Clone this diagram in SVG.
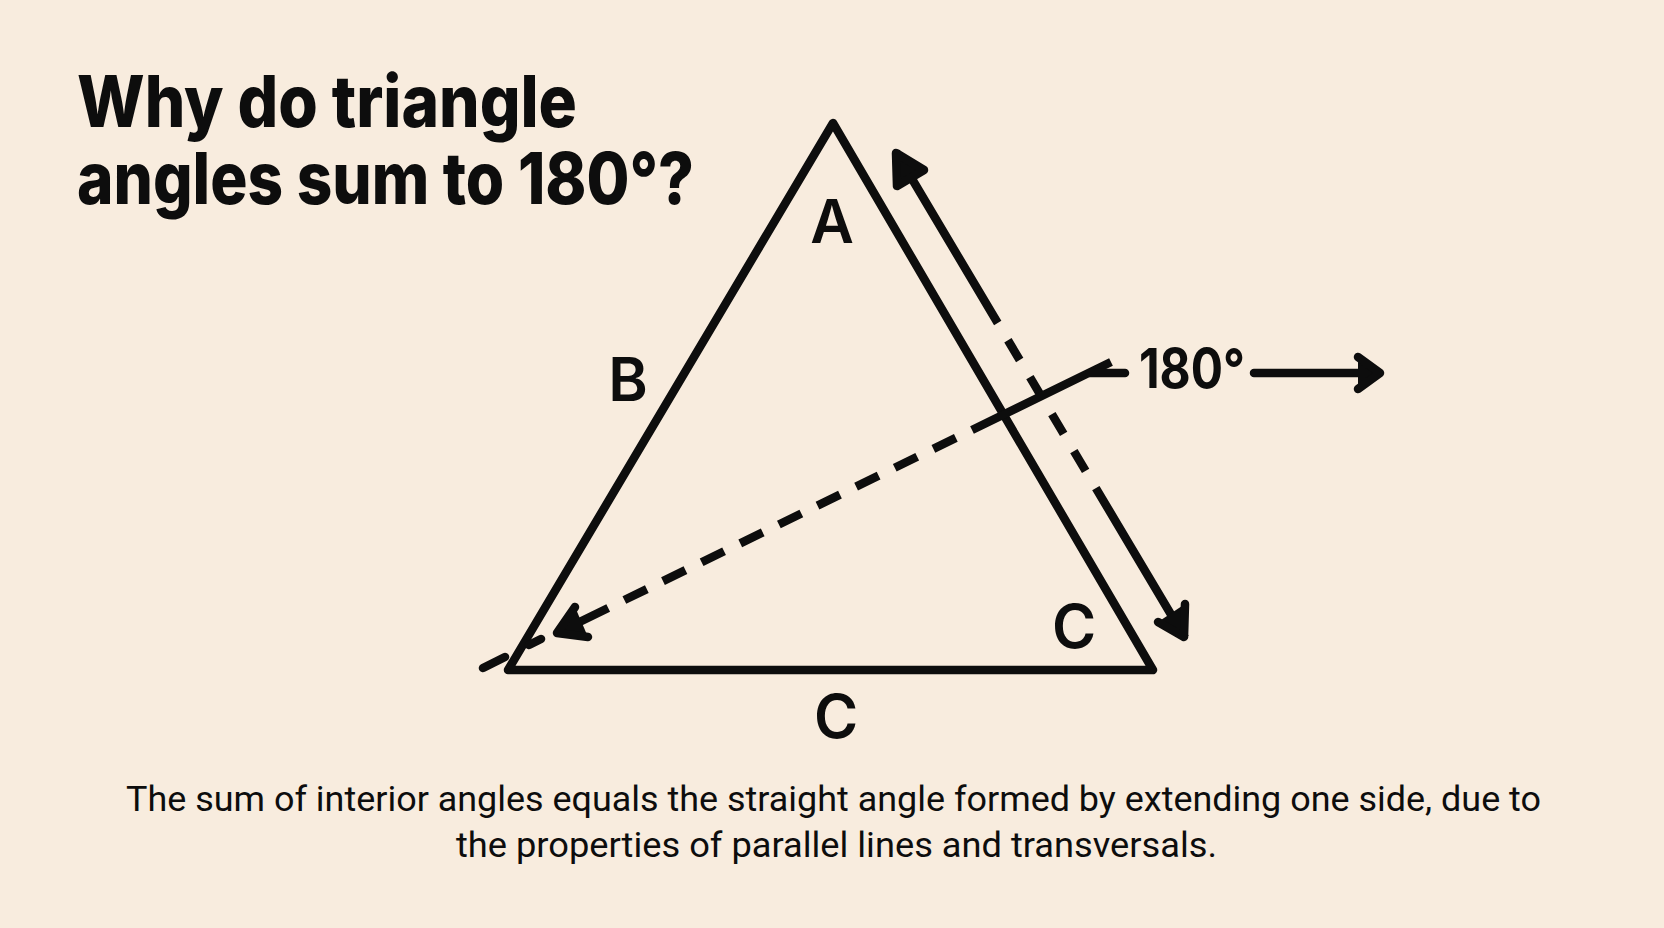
<svg xmlns="http://www.w3.org/2000/svg" width="1664" height="928" viewBox="0 0 1664 928">
<style>
.title{font-family:Inter,Roboto,"Liberation Sans",sans-serif;font-weight:800;font-size:72px;fill:#0d0d0d}
.lbl{font-family:Inter,Roboto,"Liberation Sans",sans-serif;font-weight:600;font-size:60px;fill:#0d0d0d;text-anchor:middle}
.deg{font-family:Inter,Roboto,"Liberation Sans",sans-serif;font-weight:700;font-size:55px;fill:#0d0d0d}
.cap{font-family:Roboto,"Liberation Sans",sans-serif;font-weight:400;font-size:35px;fill:#0d0d0d}
.ln{fill:none;stroke:#0d0d0d;stroke-width:8.5;stroke-linejoin:round}
.head{fill:#0d0d0d;stroke:#0d0d0d;stroke-width:8.5;stroke-linejoin:round;stroke-linecap:round}
</style>
<rect width="1664" height="928" fill="#f8ecde"/>
<g id="title">
<text class="title" x="77" y="127" textLength="500" lengthAdjust="spacingAndGlyphs">Why do triangle</text>
<text class="title" x="77" y="204" textLength="617" lengthAdjust="spacingAndGlyphs">angles sum to 180°?</text>
</g>
<g id="triangle">
<polygon class="ln" points="833,123 1153,670 508,670"/>
</g>
<g id="labels">
<text class="lbl" x="832" y="243">A</text>
<text class="lbl" x="628" y="401">B</text>
<text class="lbl" x="1074" y="648">C</text>
<text class="lbl" x="836" y="738">C</text>
</g>
<g id="connectors">
<path class="ln" stroke-linecap="butt" d="M896,152 L1185,638" stroke-dasharray="199 20 23 20 23 20 23 20 23 20 500"/>
<path class="head" d="M897,186 L896,153 L924,170 Z"/>
<path class="head" fill="none" d="M1158,622 L1184,637 L1185,604"/>
<path class="ln" stroke-width="7.5" stroke-linecap="butt" d="M557,633 L1111,362" stroke-dasharray="57 18 25 18 25 18 25 18 25 18 25 18 25 18 25 18 25 18 25 18 200"/>
<path class="ln" stroke-width="7.5" stroke-linecap="round" d="M1090,373 L1125,373"/>
<path class="head" stroke-width="8" fill="none" d="M575,607 L557,633 L588,637"/>
<path class="ln" stroke-width="7.5" stroke-linecap="round" d="M483,668 L505,657 M529,645 L541,639"/>
<path class="ln" stroke-linecap="round" d="M1254,373 L1378,373"/>
<path class="head" fill="none" d="M1358,357 L1380,373 L1358,389"/>
</g>
<g id="angle-label">
<text class="deg" x="1139" y="388" textLength="106" lengthAdjust="spacingAndGlyphs">180°</text>
</g>
<g id="caption">
<text class="cap" x="126" y="811" textLength="1415" lengthAdjust="spacingAndGlyphs">The sum of interior angles equals the straight angle formed by extending one side, due to</text>
<text class="cap" x="456" y="857" textLength="761" lengthAdjust="spacingAndGlyphs">the properties of parallel lines and transversals.</text>
</g>
</svg>
